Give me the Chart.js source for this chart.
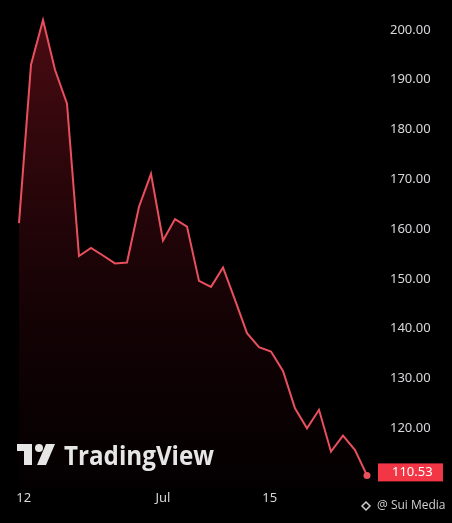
<!DOCTYPE html>
<html>
<head>
<meta charset="utf-8">
<script src="https://cdn.jsdelivr.net/npm/chart.js@4.4.0/dist/chart.umd.min.js"></script>
<style>
    html, body { margin: 0; padding: 0; background: #000; }
    #wrap { width: 452px; height: 523px; position: relative; }
</style>
</head>
<body>
<div id="wrap"><canvas id="priceChart" width="452" height="523"></canvas></div>
<script>
// price values, one per bar
const prices = [161.2, 193.0, 202.0, 192.0, 185.2, 154.6, 156.2, 154.7, 153.1, 153.3,
                164.5, 171.1, 157.7, 162.0, 160.5, 149.6, 148.4, 152.3, 145.8, 139.1,
                136.3, 135.4, 131.5, 124.0, 120.0, 123.7, 115.3, 118.5, 115.6, 110.53];
const yTicks = [120, 130, 140, 150, 160, 170, 180, 190, 200];
const xTickPos = [0.4, 12, 20.9];
const xTickLabels = ['12', 'Jul', '15'];

const lineRed = '#e8505d';
const textGrey = '#d8d8dc';
const axisFont = '"Noto Sans", "Liberation Sans", sans-serif';

const overlay = {
    id: 'overlay',
    afterDraw(chart) {
        const ctx = chart.ctx;
        const y = chart.scales.y;
        const last = prices[prices.length - 1];
        const py = y.getPixelForValue(last);
        ctx.save();
        // last price box
        ctx.fillStyle = '#f23645';
        ctx.fillRect(378, py - 12, 65, 18);
        ctx.fillStyle = '#ffffff';
        ctx.font = '13px ' + axisFont;
        ctx.textBaseline = 'middle';
        ctx.fillText(last.toFixed(2), 392, py - 3);

        // TradingView logo
        ctx.fillStyle = '#e6e6e6';
        ctx.fillRect(17, 444, 15, 7);
        ctx.fillRect(24, 444, 8, 21);
        ctx.beginPath();
        ctx.arc(39, 448, 4, 0, Math.PI * 2);
        ctx.fill();
        ctx.beginPath();
        ctx.moveTo(46, 444);
        ctx.lineTo(55, 444);
        ctx.lineTo(46, 465);
        ctx.lineTo(37, 465);
        ctx.closePath();
        ctx.fill();
        ctx.font = 'bold 27px "Open Sans", "Liberation Sans", sans-serif';
        ctx.textBaseline = 'alphabetic';
        const w = ctx.measureText('TradingView').width;
        ctx.save();
        ctx.translate(64, 465);
        ctx.scale(150 / w, 1);
        ctx.fillText('TradingView', 0, 0);
        ctx.restore();

        // watermark
        ctx.fillStyle = '#cfcfcf';
        ctx.font = '12px "Open Sans", "Liberation Sans", sans-serif';
        ctx.textBaseline = 'middle';
        ctx.fillText('@ Sui Media', 377, 506);
        ctx.strokeStyle = '#cfcfcf';
        ctx.lineWidth = 1.5;
        ctx.beginPath();
        ctx.moveTo(366, 502); ctx.lineTo(370, 506); ctx.lineTo(366, 510); ctx.lineTo(362, 506);
        ctx.closePath();
        ctx.stroke();
        ctx.restore();
    }
};

const ctx = document.getElementById('priceChart').getContext('2d');
new Chart(ctx, {
    type: 'line',
    data: {
        datasets: [{
            data: prices.map((p, i) => ({ x: i, y: p })),
            borderColor: lineRed,
            borderWidth: 2,
            tension: 0,
            clip: false,
            fill: 'start',
            backgroundColor: (c) => {
                const area = c.chart.chartArea;
                if (!area) return 'rgba(0,0,0,0)';
                const g = c.chart.ctx.createLinearGradient(0, area.top, 0, area.bottom);
                g.addColorStop(0, 'rgba(130, 20, 32, 0.6)');
                g.addColorStop(1, 'rgba(20, 0, 4, 0.2)');
                return g;
            },
            pointRadius: prices.map((p, i) => i === prices.length - 1 ? 3.5 : 0),
            pointBackgroundColor: lineRed,
            pointBorderWidth: 0
        }]
    },
    options: {
        animation: false,
        responsive: false,
        layout: { padding: { left: 19, top: 10, right: 0, bottom: 0 } },
        plugins: { legend: { display: false }, tooltip: { enabled: false } },
        scales: {
            x: {
                type: 'linear',
                min: 0,
                max: 29,
                grid: { display: false, drawTicks: false },
                border: { display: false },
                afterBuildTicks: (axis) => { axis.ticks = xTickPos.map(v => ({ value: v })); },
                afterFit: (axis) => { axis.height = 35; axis.paddingLeft = 0; axis.paddingRight = 0; },
                ticks: {
                    color: textGrey,
                    font: { size: 13, family: axisFont },
                    padding: 2,
                    maxRotation: 0,
                    autoSkip: false,
                    callback: (v) => xTickLabels[xTickPos.indexOf(v)]
                }
            },
            y: {
                position: 'right',
                min: 108,
                max: 204,
                grid: { display: false, drawTicks: false },
                border: { display: false },
                afterBuildTicks: (axis) => { axis.ticks = yTicks.map(v => ({ value: v })); },
                afterFit: (axis) => { axis.width = 85; axis.paddingTop = 0; axis.paddingBottom = 0; },
                ticks: {
                    color: textGrey,
                    font: { size: 13, family: axisFont },
                    padding: 23,
                    callback: (v) => v.toFixed(2)
                }
            }
        }
    },
    plugins: [overlay]
});
</script>
</body>
</html>
